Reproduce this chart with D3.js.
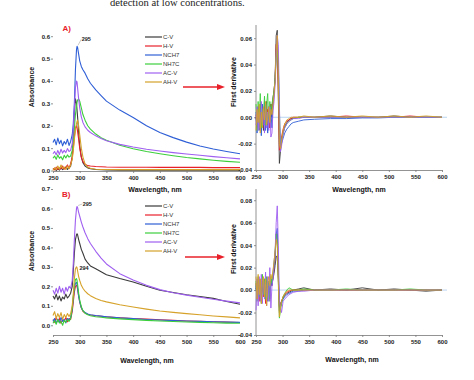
<!DOCTYPE html>
<html>
<head>
<meta charset="utf-8">
<script src="https://cdn.jsdelivr.net/npm/d3@7"></script>
<style>
body { margin: 0; background: #fff; }
svg { display: block; font-family: Arial, "Liberation Sans", sans-serif; }
.axis text { font-size: 6px; font-weight: bold; fill: #222; }
.axis line, .axis path { stroke: #777; stroke-width: 0.8; }
.title { font-size: 7px; font-weight: bold; fill: #111; }
.legend text { font-size: 6px; fill: #333; }
</style>
</head>
<body>
<div class="figure"></div>
<script>
// series names and colours, legend order
var names = ["C-V", "H-V", "NCH7", "NH7C", "AC-V", "AH-V"];
var colors = ["#3a3a3a", "#e8202a", "#2f5fd6", "#3ccf3c", "#9f5ff0", "#d6a22a"];

// wavelength grids (nm)
var wlAbs = [250,253,256,259,262,265,268,271,274,277,280,283,286,288,290,292,294,295,296,298,300,303,306,310,315,320,330,340,350,375,400,425,450,475,500,525,550,575,600];
var wlDer = [250,252,254,256,258,260,262,264,266,268,270,272,274,276,278,280,282,284,286,288,290,292,294,296,298,301,304,308,312,316,320,330,340,360,390,420,450,480,510,540,570,600];

// tick labels
var xTicks = [250, 300, 350, 400, 450, 500, 550, 600];
var yTicksAbsA = [0.0, 0.1, 0.2, 0.3, 0.4, 0.5, 0.6];
var yTicksAbsB = [0.0, 0.1, 0.2, 0.3, 0.4, 0.5, 0.6, 0.7];
var yTicksDerA = [-0.04, -0.02, 0.00, 0.02, 0.04, 0.06];
var yTicksDerB = [-0.04, -0.02, 0.00, 0.02, 0.04, 0.06, 0.08];

// A) absorbance
var absA_CV = [0.005,0.010,0.000,0.008,0.002,0.012,0.004,0.010,0.015,0.005,0.012,0.020,0.060, 0.150,0.260,0.320,0.300,0.270,0.240,0.170, 0.110,0.060,0.035,0.020,0.012,0.008,0.005,0.004,0.003, 0.002,0.002,0.002,0.002,0.002,0.002,0.002,0.002,0.002,0.002];
var absA_HV = [0.010,0.003,0.015,0.005,0.012,0.008,0.020,0.006,0.014,0.025,0.010,0.030,0.060, 0.100,0.150,0.190,0.200,0.190,0.175,0.140, 0.100,0.060,0.040,0.028,0.022,0.020,0.018,0.017,0.016, 0.015,0.015,0.015,0.014,0.014,0.014,0.014,0.013,0.013,0.013];
var absA_NCH7 = [0.125,0.140,0.115,0.145,0.120,0.135,0.110,0.130,0.118,0.140,0.112,0.130,0.160, 0.210,0.300,0.450,0.540,0.555,0.550,0.520, 0.490,0.465,0.450,0.435,0.410,0.390,0.360,0.335,0.310, 0.270,0.237,0.200,0.170,0.147,0.127,0.110,0.096,0.085,0.075];
var absA_NH7C = [0.055,0.065,0.050,0.070,0.055,0.062,0.048,0.068,0.056,0.070,0.060,0.065,0.090, 0.130,0.190,0.250,0.290,0.305,0.315,0.320, 0.310,0.280,0.250,0.225,0.200,0.185,0.163,0.147,0.135, 0.113,0.097,0.085,0.075,0.066,0.058,0.052,0.046,0.041,0.037];
var absA_ACV = [0.075,0.085,0.070,0.090,0.072,0.095,0.078,0.090,0.080,0.098,0.085,0.090,0.120, 0.180,0.280,0.370,0.400,0.395,0.370,0.320, 0.280,0.240,0.215,0.195,0.180,0.170,0.155,0.143,0.133, 0.117,0.105,0.095,0.087,0.080,0.074,0.068,0.062,0.057,0.052];
var absA_AHV = [0.000,0.012,0.004,0.020,0.006,0.025,0.010,0.015,0.005,0.020,0.008,0.025,0.050, 0.090,0.140,0.180,0.210,0.220,0.225,0.200, 0.160,0.100,0.060,0.030,0.015,0.010,0.006,0.005,0.005, 0.004,0.004,0.004,0.004,0.004,0.004,0.004,0.004,0.004,0.004];

// B) absorbance
var absB_CV = [0.150,0.135,0.160,0.130,0.150,0.125,0.145,0.135,0.160,0.140,0.150,0.165,0.200, 0.280,0.370,0.440,0.465,0.470,0.465,0.440, 0.420,0.390,0.370,0.340,0.320,0.305,0.290,0.275,0.260, 0.240,0.222,0.200,0.180,0.168,0.157,0.148,0.138,0.122,0.108];
var absB_HV = [0.030,0.015,0.040,0.020,0.035,0.010,0.030,0.020,0.040,0.018,0.035,0.030,0.070, 0.120,0.170,0.200,0.205,0.200,0.185,0.150, 0.120,0.090,0.072,0.063,0.057,0.053,0.049,0.046,0.043, 0.038,0.034,0.032,0.028,0.025,0.022,0.020,0.018,0.016,0.014];
var absB_NCH7 = [0.020,0.035,0.010,0.030,0.015,0.040,0.020,0.030,0.012,0.035,0.025,0.040,0.080, 0.140,0.190,0.215,0.220,0.210,0.190,0.150, 0.120,0.090,0.075,0.065,0.058,0.054,0.050,0.047,0.044, 0.038,0.034,0.030,0.027,0.024,0.022,0.020,0.018,0.016,0.015];
var absB_NH7C = [0.010,0.025,0.005,0.030,0.012,0.020,0.000,0.025,0.015,0.030,0.020,0.035,0.090, 0.150,0.200,0.235,0.240,0.230,0.210,0.165, 0.130,0.095,0.075,0.062,0.054,0.049,0.044,0.041,0.038, 0.033,0.029,0.025,0.022,0.019,0.017,0.015,0.013,0.011,0.010];
var absB_ACV = [0.180,0.160,0.190,0.165,0.200,0.170,0.190,0.160,0.195,0.175,0.200,0.190,0.230, 0.320,0.440,0.540,0.600,0.610,0.605,0.580, 0.560,0.530,0.505,0.475,0.445,0.420,0.380,0.345,0.315, 0.265,0.232,0.205,0.183,0.167,0.155,0.144,0.134,0.124,0.115];
var absB_AHV = [0.050,0.070,0.035,0.060,0.040,0.065,0.030,0.055,0.040,0.060,0.045,0.060,0.100, 0.160,0.240,0.290,0.300,0.295,0.280,0.250, 0.230,0.205,0.190,0.175,0.162,0.152,0.137,0.127,0.120, 0.105,0.094,0.083,0.073,0.066,0.060,0.054,0.048,0.043,0.038];

// A) first derivative
var derA_CV = [0.000,-0.008,0.006,-0.004,0.010,-0.006,0.004,-0.010,0.008,-0.002,0.012,-0.006,0.005,-0.008,0.010,0.000,0.015,0.020,0.030, 0.062,0.066,0.015,-0.035,-0.026,-0.018, -0.012,-0.007,-0.004,-0.002,-0.001,-0.001,0.000,0.000, 0.000,0.001,0.000,0.000,0.000,0.001,0.000,0.000,0.000];
var derA_HV = [0.002,-0.006,0.008,-0.002,0.004,-0.010,0.006,0.000,-0.006,0.008,-0.004,0.006,0.002,-0.008,0.010,0.004,0.012,0.020,0.030, 0.055,0.058,0.020,-0.025,-0.022,-0.015, -0.009,-0.005,-0.003,-0.002,-0.001,0.000,0.000,0.000, 0.000,0.000,0.001,0.000,0.000,0.000,0.001,0.000,0.000];
var derA_NCH7 = [0.004,-0.012,0.008,-0.010,0.006,-0.014,0.010,-0.006,0.012,-0.010,0.004,-0.012,0.008,-0.004,0.006,-0.008,0.010,0.018,0.030, 0.050,0.060,0.040,-0.005,-0.022,-0.020, -0.016,-0.012,-0.009,-0.007,-0.005,-0.004,-0.003,-0.002, -0.0015,-0.001,-0.001,-0.0005,-0.0005,0.000,0.000,0.000,0.000];
var derA_NH7C = [0.010,-0.010,0.012,-0.004,0.018,-0.008,0.006,0.002,0.016,-0.006,0.010,0.018,-0.004,0.012,0.004,0.010,0.015,0.020,0.030, 0.045,0.050,0.040,0.005,-0.020,-0.018, -0.012,-0.008,-0.005,-0.003,-0.002,-0.001,0.000,0.000, 0.000,0.000,0.000,0.000,0.000,0.000,0.000,0.000,0.000];
var derA_ACV = [-0.006,0.008,-0.010,0.004,-0.008,0.012,-0.004,0.006,-0.012,0.010,-0.008,0.004,-0.010,0.008,-0.015,-0.012,0.005,0.012,0.025, 0.045,0.062,0.055,0.010,-0.026,-0.022, -0.013,-0.008,-0.005,-0.003,-0.002,-0.001,-0.001,0.000, 0.000,0.000,0.000,0.000,0.000,0.000,0.000,0.000,0.000];
var derA_AHV = [-0.010,0.006,-0.004,0.010,-0.012,0.004,-0.008,0.008,-0.002,0.012,-0.006,0.000,0.008,-0.004,0.006,0.002,0.010,0.018,0.028, 0.050,0.062,0.030,-0.020,-0.024,-0.018, -0.010,-0.005,-0.002,-0.001,0.000,0.000,0.000,0.001, 0.000,0.001,0.000,0.001,0.000,0.001,0.000,0.001,0.000];

// B) first derivative
var derB_CV = [0.002,-0.004,0.004,-0.002,0.003,-0.004,0.002,-0.003,0.004,-0.002,0.003,-0.004,0.002,0.000,0.004,0.006,0.010,0.015,0.022, 0.030,0.030,0.010,-0.015,-0.012,-0.010, -0.007,-0.005,-0.003,-0.002,-0.001,0.000,0.001,0.002, 0.000,0.001,0.000,0.002,0.000,0.001,0.000,-0.001,0.000];
var derB_HV = [0.006,-0.006,0.008,-0.010,0.004,-0.004,0.010,-0.006,0.006,-0.012,0.008,-0.002,0.006,-0.008,0.010,0.004,0.012,0.020,0.030, 0.050,0.050,0.015,-0.020,-0.015,-0.010, -0.006,-0.004,-0.002,-0.001,0.000,0.000,0.000,0.000, 0.000,0.000,0.000,0.000,0.000,0.000,0.000,0.000,0.000];
var derB_NCH7 = [0.004,-0.008,0.010,-0.006,0.006,-0.010,0.008,-0.004,0.010,-0.008,0.006,-0.010,0.004,-0.006,0.008,0.004,0.012,0.020,0.030, 0.050,0.055,0.020,-0.018,-0.015,-0.012, -0.008,-0.006,-0.004,-0.003,-0.002,-0.001,-0.001,0.000, 0.000,0.000,0.000,0.000,0.000,0.000,0.000,0.000,0.000];
var derB_NH7C = [0.008,-0.010,0.012,-0.006,0.010,-0.012,0.014,-0.004,0.010,-0.008,0.012,-0.006,0.008,-0.010,0.012,0.006,0.015,0.025,0.035, 0.050,0.045,0.010,-0.025,-0.018,-0.012, -0.006,-0.003,0.000,0.002,0.001,0.000,0.000,0.001, 0.000,0.000,0.001,0.000,0.000,0.000,0.001,0.000,0.000];
var derB_ACV = [-0.018,0.010,-0.014,0.012,-0.010,0.014,-0.012,0.010,-0.008,0.016,-0.014,0.012,-0.010,0.020,-0.016,0.004,0.010,0.025,0.035, 0.060,0.075,0.040,-0.010,-0.015,-0.020, -0.010,-0.008,-0.006,-0.004,-0.003,-0.002,-0.001,-0.001, 0.000,0.000,0.000,0.000,0.000,0.000,0.000,0.000,0.000];
var derB_AHV = [0.012,-0.008,0.014,-0.004,0.010,-0.012,0.008,0.012,-0.006,0.010,-0.014,0.006,0.012,0.004,0.014,0.010,0.018,0.025,0.035, 0.045,0.040,0.005,-0.024,-0.016,-0.010, -0.006,-0.003,-0.001,0.000,0.000,0.000,0.000,0.000, 0.000,0.000,0.000,0.000,0.000,0.000,0.000,0.000,0.000];

var svg = d3.select(".figure").append("svg")
    .attr("width", 474)
    .attr("height", 380);

// caption line from the page above, cut at the top
svg.append("text")
    .attr("x", 110).attr("y", 6)
    .style("font-family", "'Liberation Serif', 'DejaVu Serif', serif")
    .style("font-size", "10.6px")
    .style("fill", "#222")
    .text("detection at low concentrations.");

var drawPanel = function(p) {
    // set the ranges
    var x = d3.scaleLinear().domain([250, 600]).range([p.left, p.right]);
    var y = d3.scaleLinear().domain(p.yDomain).range([p.bottom, p.top]);

    // x axis
    var gx = svg.append("g")
        .attr("class", "axis")
        .attr("transform", "translate(0," + p.bottom + ")")
        .call(d3.axisBottom(x).tickValues(xTicks).tickSize(2).tickSizeOuter(0).tickPadding(3));

    // y axis
    var gy = svg.append("g")
        .attr("class", "axis")
        .attr("transform", "translate(" + p.left + ",0)")
        .call(d3.axisLeft(y).tickValues(p.yTicks).tickSize(2).tickSizeOuter(0).tickPadding(p.pad)
            .tickFormat(function(d) { return d.toFixed(p.digits); }));
    if (!p.yLine) gy.select(".domain").remove();
    else gy.select(".domain").attr("d", "M0," + p.bottom + "V" + p.top);

    // zero line on derivative plots
    if (p.zero) {
        svg.append("line")
            .attr("x1", p.left).attr("x2", p.right + 5)
            .attr("y1", y(0)).attr("y2", y(0))
            .style("stroke", "#a9c9ee").style("stroke-width", 0.8);
    }

    var valueline = d3.line()
        .x(function(d, i) { return x(p.wl[i]); })
        .y(function(d) { return y(d); });

    p.series.forEach(function(s, i) {
        svg.append("path")
            .datum(s)
            .attr("d", valueline)
            .style("fill", "none")
            .style("stroke", colors[i])
            .style("stroke-width", p.lw)
            .style("stroke-linejoin", "round");
    });

    // axis titles
    svg.append("text").attr("class", "title")
        .attr("text-anchor", "middle")
        .attr("x", p.xTitle[0]).attr("y", p.xTitle[1])
        .text("Wavelength, nm");
    svg.append("text").attr("class", "title")
        .attr("text-anchor", "middle")
        .attr("transform", "translate(" + p.yTitle[0] + "," + p.yTitle[1] + ") rotate(-90)")
        .text(p.yLabel);

    return {x: x, y: y};
};

var legend = function(x0, y0) {
    var g = svg.append("g").attr("class", "legend");
    names.forEach(function(n, i) {
        g.append("line")
            .attr("x1", x0).attr("x2", x0 + 17)
            .attr("y1", y0 + i * 9).attr("y2", y0 + i * 9)
            .style("stroke", colors[i]).style("stroke-width", 1.2);
        g.append("text")
            .attr("x", x0 + 18).attr("y", y0 + i * 9 + 2)
            .text(n);
    });
};

var arrow = function(x0, x1, y0) {
    svg.append("line")
        .attr("x1", x0).attr("x2", x1 - 7)
        .attr("y1", y0).attr("y2", y0)
        .style("stroke", "#e8202a").style("stroke-width", 1.6);
    svg.append("path")
        .attr("d", "M" + (x1 - 8) + "," + (y0 - 3) + "L" + x1 + "," + y0 + "L" + (x1 - 8) + "," + (y0 + 3) + "Z")
        .style("fill", "#e8202a");
};

var peakLabel = function(sc, wl, v, dx, dy, txt) {
    svg.append("line")
        .attr("x1", sc.x(wl) + 1).attr("y1", sc.y(v) - 1)
        .attr("x2", sc.x(wl) + dx - 0.5).attr("y2", sc.y(v) + dy - 2)
        .style("stroke", "#999").style("stroke-width", 0.5);
    svg.append("text")
        .attr("x", sc.x(wl) + dx).attr("y", sc.y(v) + dy)
        .style("font-size", "5.5px").style("font-weight", "bold").style("fill", "#222")
        .text(txt);
};

var panelLetter = function(x0, y0, txt) {
    svg.append("text")
        .attr("x", x0).attr("y", y0)
        .style("font-size", "8px").style("font-weight", "bold").style("fill", "#e8202a")
        .text(txt);
};

// A) absorbance
var sA = drawPanel({
    left: 53, right: 240, top: 25, bottom: 171, yDomain: [-0.002, 0.65],
    yTicks: yTicksAbsA, digits: 1, pad: 1, yLine: false, zero: false, lw: 1.1,
    wl: wlAbs, series: [absA_CV, absA_HV, absA_NCH7, absA_NH7C, absA_ACV, absA_AHV],
    xTitle: [155, 192], yTitle: [34, 87], yLabel: "Absorbance"
});
peakLabel(sA, 295, 0.555, 4.7, -5, "295");
panelLetter(62.5, 30.5, "A)");
legend(145, 37);
arrow(183, 225, 87);

// A) first derivative
drawPanel({
    left: 256, right: 442, top: 25, bottom: 170, yDomain: [-0.04, 0.07],
    yTicks: yTicksDerA, digits: 2, pad: 2, yLine: true, zero: true, lw: 0.9,
    wl: wlDer, series: [derA_CV, derA_HV, derA_NCH7, derA_NH7C, derA_ACV, derA_AHV],
    xTitle: [359, 192], yTitle: [236, 82], yLabel: "First derivative"
});

// B) absorbance
var sB = drawPanel({
    left: 53, right: 240, top: 189, bottom: 335, yDomain: [-0.05, 0.7],
    yTicks: yTicksAbsB, digits: 1, pad: 1, yLine: false, zero: false, lw: 1.1,
    wl: wlAbs, series: [absB_CV, absB_HV, absB_NCH7, absB_NH7C, absB_ACV, absB_AHV],
    xTitle: [147, 363], yTitle: [34, 251], yLabel: "Absorbance"
});
peakLabel(sB, 295, 0.61, 5.7, -0.5, "295");
svg.append("text")
    .attr("x", sB.x(294) + 3).attr("y", sB.y(0.30) + 3)
    .style("font-size", "5.5px").style("font-weight", "bold").style("fill", "#222")
    .text("294");
panelLetter(62, 197, "B)");
legend(145, 206);
arrow(185, 225, 257);

// B) first derivative
drawPanel({
    left: 256, right: 442, top: 189, bottom: 335, yDomain: [-0.04, 0.09],
    yTicks: yTicksDerB, digits: 2, pad: 2, yLine: true, zero: true, lw: 0.9,
    wl: wlDer, series: [derB_CV, derB_HV, derB_NCH7, derB_NH7C, derB_ACV, derB_AHV],
    xTitle: [352, 362], yTitle: [236, 249], yLabel: "First derivative"
});
</script>
</body>
</html>
